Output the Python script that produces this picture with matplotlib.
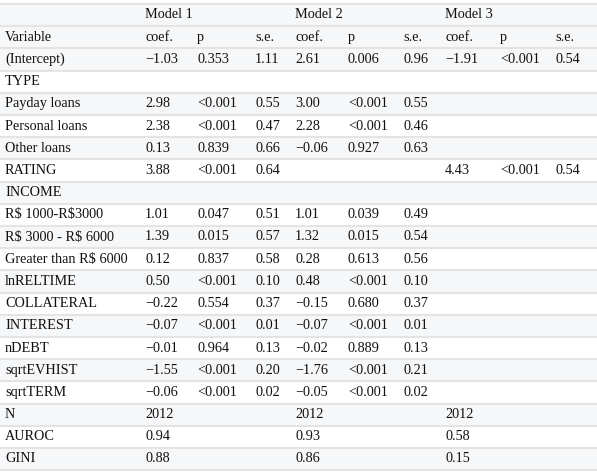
import matplotlib
matplotlib.use("Agg")
import matplotlib.pyplot as plt
from matplotlib.patches import Rectangle

models = ["Model 1", "Model 2", "Model 3"]
subcols = ["coef.", "p", "s.e."]
variables = ["(Intercept)", "TYPE", "Payday loans", "Personal loans", "Other loans", "RATING",
             "INCOME", "R$ 1000-R$3000", "R$ 3000 - R$ 6000", "Greater than R$ 6000",
             "lnRELTIME", "COLLATERAL", "INTEREST", "nDEBT", "sqrtEVHIST", "sqrtTERM",
             "N", "AUROC", "GINI"]
m1 = [["\u22121.03", "0.353", "1.11"], ["", "", ""], ["2.98", "<0.001", "0.55"], ["2.38", "<0.001", "0.47"],
      ["0.13", "0.839", "0.66"], ["3.88", "<0.001", "0.64"], ["", "", ""], ["1.01", "0.047", "0.51"],
      ["1.39", "0.015", "0.57"], ["0.12", "0.837", "0.58"], ["0.50", "<0.001", "0.10"],
      ["\u22120.22", "0.554", "0.37"], ["\u22120.07", "<0.001", "0.01"], ["\u22120.01", "0.964", "0.13"],
      ["\u22121.55", "<0.001", "0.20"], ["\u22120.06", "<0.001", "0.02"], ["2012", "", ""],
      ["0.94", "", ""], ["0.88", "", ""]]
m2 = [["2.61", "0.006", "0.96"], ["", "", ""], ["3.00", "<0.001", "0.55"], ["2.28", "<0.001", "0.46"],
      ["\u22120.06", "0.927", "0.63"], ["", "", ""], ["", "", ""], ["1.01", "0.039", "0.49"],
      ["1.32", "0.015", "0.54"], ["0.28", "0.613", "0.56"], ["0.48", "<0.001", "0.10"],
      ["\u22120.15", "0.680", "0.37"], ["\u22120.07", "<0.001", "0.01"], ["\u22120.02", "0.889", "0.13"],
      ["\u22121.76", "<0.001", "0.21"], ["\u22120.05", "<0.001", "0.02"], ["2012", "", ""],
      ["0.93", "", ""], ["0.86", "", ""]]
m3 = [["\u22121.91", "<0.001", "0.54"], ["", "", ""], ["", "", ""], ["", "", ""],
      ["", "", ""], ["4.43", "<0.001", "0.54"], ["", "", ""], ["", "", ""],
      ["", "", ""], ["", "", ""], ["", "", ""], ["", "", ""], ["", "", ""], ["", "", ""],
      ["", "", ""], ["", "", ""], ["2012", "", ""], ["0.58", "", ""], ["0.15", "", ""]]

W, H = 597, 472
fig = plt.figure(figsize=(W / 100, H / 100), dpi=100)
ax = fig.add_axes([0, 0, 1, 1])
ax.set_xlim(0, W)
ax.set_ylim(H, 0)
ax.axis("off")

font = dict(family=["Liberation Serif", "DejaVu Serif"], fontsize=10.3, va="center",
            color="#111111", parse_math=False)
rowh = 22.2
y0 = 15
colx = [[145, 197, 255], [295, 348, 403], [445, 500, 555]]

nrows = 2 + len(variables)
for r in range(nrows):
    yc = y0 + r * rowh
    if r < 2 or (r - 2) % 2 == 0:
        ax.add_patch(Rectangle((0, yc - rowh / 2), W, rowh, color="#f6f7f9", lw=0, zorder=0))
    ax.plot([0, W], [yc + rowh / 2, yc + rowh / 2], color="#e4e4e4", lw=1.5, zorder=1)
ax.plot([0, W], [y0 - rowh / 2, y0 - rowh / 2], color="#e4e4e4", lw=1.5, zorder=1)

for mi, m in enumerate(models):
    ax.text(colx[mi][0], y0, m, **font)
ax.text(5, y0 + rowh, "Variable", **font)
for mi in range(3):
    for ci, s in enumerate(subcols):
        ax.text(colx[mi][ci], y0 + rowh, s, **font)

for i, v in enumerate(variables):
    yc = y0 + (i + 2) * rowh
    ax.text(5, yc, v, **font)
    for mi, data in enumerate([m1, m2, m3]):
        for ci in range(3):
            if data[i][ci]:
                ax.text(colx[mi][ci], yc, data[i][ci], **font)

fig.savefig("out.png", dpi=100)
